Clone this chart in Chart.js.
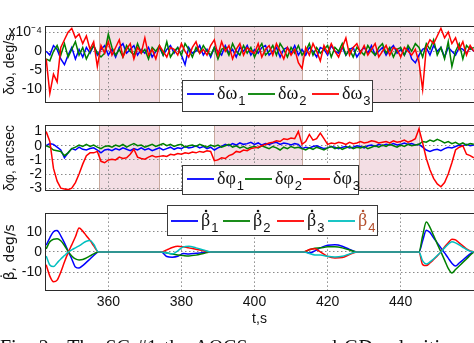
<!DOCTYPE html>
<html>
<head>
<meta charset="utf-8">
<script src="https://cdn.jsdelivr.net/npm/chart.js@4.4.1/dist/chart.umd.min.js"></script>
<style>
  html, body { margin: 0; padding: 0; background: #fff; overflow: hidden; width: 474px; height: 343px; }
  canvas { position: absolute; left: 0; }
  #caption { position: absolute; left: 0px; top: 337px; font: 20px "Liberation Serif", serif; line-height: 20px; white-space: nowrap; color: #111; word-spacing: 2px; }
</style>
</head>
<body>
<canvas id="pOmega" width="474" height="114" style="top:0px"></canvas>
<canvas id="pPhi" width="474" height="88" style="top:114px"></canvas>
<canvas id="pBeta" width="474" height="141" style="top:202px"></canvas>
<div id="caption">Fig. 2.&nbsp; The SC #1 the AOCS errors and GD velocities</div>
<script>
// sample times (s) of the attitude error traces
const tSamples = [
  343, 344, 345, 346, 347, 348, 349, 350, 351, 352,
  353, 354, 355, 356, 357, 358, 359, 360, 361, 362,
  363, 364, 365, 366, 367, 368, 369, 370, 371, 372,
  373, 374, 375, 376, 377, 378, 379, 380, 381, 382,
  383, 384, 385, 386, 387, 388, 389, 390, 391, 392,
  393, 394, 395, 396, 397, 398, 399, 400, 401, 402,
  403, 404, 405, 406, 407, 408, 409, 410, 411, 412,
  413, 414, 415, 416, 417, 418, 419, 420, 421, 422,
  423, 424, 425, 426, 427, 428, 429, 430, 431, 432,
  433, 434, 435, 436, 437, 438, 439, 440, 441, 442,
  443, 444, 445, 446, 447, 448, 449, 450, 451, 452,
  453, 454, 455, 456, 457, 458, 459, 460
];

// rate errors, x1e-4 deg/s
const dOmega1 = [
  0, -1, 1.5, 0.5, -2, -3.5, -1, 1, -2, 0.5,
  -1.5, 1, -0.5, 1.5, -1, 0.5, 1.5, -1, 0.5, -1.5,
  1, 2, -0.5, 0.5, 1.5, -1, 0.5, -0.5, 1, -1.5,
  0, 1, -1, 0.5, 1.5, -0.5, 1, -1, -3.5, 1,
  -0.5, 0, 1.5, -1, 0.5, -1.5, 1, 0, -1, 1.5,
  -0.5, 0.5, -1.5, 1, 0, 1.5, -1, 0.5, -0.5, 1,
  1.5, -1, 0, 1, -1.5, 0.5, 1, -0.5, 1.5, -1,
  0.5, -1, 1, 0, -1.5, 1, 0.5, -1, 1.5, 0,
  -0.5, 1, -1, 0.5, 1, -1.5, 0, 1, -0.5, 1.5,
  -1, 0, 1, -1, 0.5, 1.5, -0.5, 0.5, -1, 1,
  -2, -3, -1, 0.5, 1, -1, 1.5, 0, 1, -1.5,
  1, 0, -1, 1, 0.5, -0.5, 1, 0
];
const dOmega2 = [
  -2, -2.5, 0, 1.5, -1, 2, -1.5, 0.5, 2.5, -1,
  1, -2, 0, 1.5, -0.5, -1.5, -0.5, 4.5, 1, -1,
  0.5, -1.5, 1.5, 0, -1, 2, -0.5, 0.5, -2, 1,
  0, 1.5, -1, 2.5, -1.5, 0, 1, -1, 2, 0.5,
  -1.5, 1, -0.5, 1.5, 0, -1, 1, -2, 0.5, 1,
  -1, 2, 0, -1, 1.5, -0.5, 1, -1.5, 0.5, 2,
  -1, 0, 1.5, -1, 2, 0.5, -1.5, 1, -0.5, 1.5,
  -1, 0, 2, -1, 1, -0.5, 0.5, 1.5, -1.5, 1,
  0, 2, -1, 0.5, -1.5, 1, 0, -1, 1.5, 0,
  -1, 1, 2, -0.5, 1, -1.5, 0.5, 1, -1, 1.5,
  0, 2, 1, -1.5, 2, 0.5, 3, -1, 1, -2,
  2.5, -4, 0, 2, -2, 1.5, 0.5, 1
];
const dOmega3 = [
  -2, -11, -6, -8, 1, 3, 5, 6, 3.5, 4.5,
  2, 4, 0.5, 2.5, -4, 1.5, -0.5, 2.5, -1, 1,
  3, -1.5, 0.5, 2, -2, 1, -0.5, 3.5, -1, 0.5,
  -2, 1.5, 0, -1.5, 1, 0.5, -1, 2, 0, -1.5,
  1, 2.5, -0.5, 0.5, -1, 1.5, 3, -1, 2.5, 0,
  1.5, -2, 0.5, 2, -1, 1, 0, -0.5, 2, -1.5,
  0.5, 1.5, -1, 2, 0, -2, 1, -1, 0.5, -3,
  -4.5, 1, -1, 2, 0, -2.5, 1.5, -0.5, 2, 0,
  -1.5, 1, 3.5, -1, 1, 2, -0.5, 1.5, -1, 0.5,
  2, -1.5, 0, 1.5, -1, 1, 0.5, -1.5, 1, 0,
  -1, 0.5, -3, -10, 1, 3, 2, 4, 6, 3.5,
  5, 2, 3.5, 0.5, 2.5, -1, 1.5, 0
];

// attitude errors, arcsec
const dPhi1 = [
  0.0, 0.15, 0.1, -0.1, -0.3, -0.85, -0.5, -0.2, -0.3, -0.1,
  -0.25, -0.3, -0.2, -0.15, -0.3, -0.5, -0.3, -0.25, -0.35, -0.2,
  -0.3, -0.15, -0.25, -0.35, -0.2, -0.3, -0.15, -0.3, -0.2, -0.35,
  -0.25, -0.15, -0.3, -0.2, -0.1, -0.25, -0.15, -0.2, -0.05, -0.15,
  -0.1, 0.0, -0.15, -0.05, -0.2, -0.1, -0.3, -0.15, -0.05, 0.1,
  0.0, 0.15, 0.05, 0.2, 0.1, 0.15, 0.25, 0.1, 0.2, 0.05,
  0.15, 0.1, 0.2, 0.25, 0.1, 0.2, 0.15, 0.05, 0.15, 0.1,
  -0.2, -0.1, -0.15, -0.05, 0.0, -0.1, -0.2, -0.15, -0.05, -0.1,
  -0.2, -0.1, -0.05, -0.15, -0.1, 0.0, -0.05, -0.15, 0.0, 0.05,
  -0.05, 0.1, 0.0, 0.1, 0.05, 0.15, 0.05, 0.1, 0.2, 0.1,
  0.15, 0.05, 0.1, -0.1, -0.3, -0.4, -0.3, -0.25, -0.35, -0.2,
  -0.1, -0.15, -0.05, 0.05, 0.0, 0.1, 0.0, 0.05
];
const dPhi2 = [
  0.0, -0.1, -0.3, -0.35, -0.4, -0.7, -0.5, -0.2, -0.1, 0.05,
  -0.05, 0.1, -0.05, 0.05, -0.1, -0.2, -0.05, 0.0, -0.1, 0.05,
  -0.05, 0.1, -0.1, 0.05, 0.15, 0.0, 0.05, -0.1, 0.0, 0.1,
  -0.05, 0.05, 0.15, 0.0, 0.1, -0.05, 0.05, 0.1, -0.1, 0.0,
  0.05, -0.05, 0.1, 0.0, -0.1, 0.05, -0.05, 0.05, -0.1, 0.0,
  0.1, -0.1, 0.0, -0.15, -0.05, -0.2, -0.1, -0.05, -0.15, 0.0,
  -0.1, -0.2, -0.05, -0.15, -0.3, -0.1, -0.2, -0.05, -0.15, -0.1,
  -0.2, -0.3, -0.15, -0.25, -0.1, -0.2, -0.3, -0.15, -0.05, -0.2,
  -0.1, -0.25, -0.15, -0.05, -0.2, -0.1, -0.15, -0.05, -0.2, -0.1,
  0.0, -0.1, 0.05, -0.05, 0.1, 0.0, -0.1, 0.05, -0.05, 0.1,
  0.0, 0.05, 0.1, 0.3, 0.25, 0.4, 0.3, 0.45, 0.35, 0.2,
  0.3, 0.15, 0.25, 0.1, 0.2, 0.05, 0.15, 0.1
];
const dPhi3 = [
  1.0, 0.3, -1.6, -2.5, -3.0, -3.05, -3.1, -3.0, -2.6, -2.0,
  -1.3, -0.7, -0.5, -0.5, -0.4, -1.1, -1.2, -1.0, -0.95, -1.0,
  -0.8, -0.9, -0.85, -0.6, -0.25, -0.8, -0.9, -0.95, -0.8, -0.7,
  -0.8, -0.75, -0.7, -0.75, -0.6, -0.65, -0.55, -0.6, -0.5, -0.55,
  -0.45, -0.5, -0.4, -0.45, -0.35, -0.4, -1.05, -1.0, -0.85, -0.9,
  -0.7, -0.6, -0.4, -0.45, -0.3, -0.35, -0.2, -0.15, -0.1, 0.0,
  0.1, 0.2, 0.25, 0.35, 0.3, 0.5, 0.45, 0.55, 0.5, 1.0,
  0.1, 0.3, 0.8, 0.4, 0.5, 0.9, 0.5, 0.1, 0.2, 0.15,
  0.25, 0.2, 0.1, 0.25, 0.15, 0.2, 0.3, 0.2, 0.25, 0.35,
  0.3, 0.2, 0.25, 0.3, 0.2, 0.35, 0.25, 0.3, 0.4, 0.25,
  0.35, 0.5, 1.2, 0.2, -0.9, -1.7, -2.3, -2.7, -2.9, -2.6,
  -2.0, -1.2, -0.3, -0.1, 0.0, -0.6, -0.7, -0.85
];

// gyrodyne gimbal rates, deg/s (zero between manoeuvres)
const tBeta = [
  343, 344, 345, 346, 347, 348, 349.1, 350, 351, 352, 353, 354, 355, 356, 357.3,
  374.5, 376, 377.5, 379, 380.5, 382, 384, 386, 388,
  413.5, 415, 416.5, 418, 420, 422, 424, 426, 428,
  445, 446, 447, 448, 449, 450, 451, 452, 453, 454, 455, 456, 457, 458, 459, 460
];
const beta1 = [
  3.3, 7, 10, 10.6, 8, 4.5, 0, -3.5, -7.5, -8, -6.8, -5.2, -3.5, -1.8, 0,
  0, -2.3, -2.6, -2.2, -0.8, -1.0, -0.7, -0.3, 0,
  0, -0.5, 0.5, 2, 3.3, 3.5, 2.8, 1.2, 0,
  0, 5.5, 10.8, 9.6, 7, 4.5, 2, -0.5, -3.1, -5.6, -7, -5.5, -4, -2.5, -1, 0
];
const beta2 = [
  1.5, 5, 6.3, 6.5, 5.5, 3.2, 0, -2, -3.5, -4, -3.8, -3, -2, -1, 0,
  0, -0.5, -1, -1.5, -1.8, -2, -1.6, -0.8, 0,
  0, 1, 1.8, 2, 2.5, 2.5, 2, 0.9, 0,
  0, 8, 14.8, 12.2, 8.1, 4, 0, -4.1, -8.2, -10.5, -8.7, -7, -5.2, -3.5, -1.7, 0
];
const beta3 = [
  -6.4, -12, -14.8, -14, -10, -5, 0, 3.5, 7.5, 11.8, 10.3, 8, 5.7, 3, 0,
  0, 1, 2.2, 2.8, 2.5, 2, 1.3, 0.6, 0,
  0, 1.2, 1.5, 0, -2.2, -3, -2.8, -1.3, 0,
  0, -6.3, -6.8, -5.5, -3.8, -2, 0, 2.5, 4.5, 6.3, 6, 4.5, 3, 1.5, 0.5, 0
];
const beta4 = [
  -2, -6.5, -7.3, -5.5, -3.5, -1.8, 0, 1, 2, 3, 4.2, 5.3, 5.6, 3.8, 0,
  0, -0.5, -1, 0.5, 2.5, 2.8, 2, 1, 0,
  0, -0.8, -1.5, -1.5, -2.2, -2.5, -2.2, -1, 0,
  0, -4.5, -6, -5, -3.5, -1.8, 0, 2, 3.8, 5, 4.5, 3.5, 2.3, 1.2, 0.4, 0
];

const xTicks = [360, 380, 400, 420, 440];
const omegaTicks = [-10, -5, 0, 5];
const phiTicks = [-3, -2, -1, 0, 1];
const betaTicks = [-10, 0, 10];
// pink windows (s)
const shadedSpans = [[357.5, 374], [389, 413], [428.5, 444.9]];

const omegaLabels = ['δω₁', 'δω₂', 'δω₃'];
const phiLabels = ['δφ₁', 'δφ₂', 'δφ₃'];
const betaLabels = ['β̇₁', 'β̇₂', 'β̇₃', 'β̇₄'];

const BLUE = '#0000ff', GREEN = '#008000', RED = '#ff0000', CYAN = '#00bfbf';
const GRID = '#8a8a8a';

Chart.defaults.font.family = '"Liberation Sans", Arial, sans-serif';
Chart.defaults.font.size = 14;
Chart.defaults.color = '#111';

const pts = (ts, vs) => ts.map((t, i) => ({ x: t, y: vs[i] }));

function series(label, ts, vs, color, order, extra) {
  return Object.assign({
    label, data: pts(ts, vs), borderColor: color, backgroundColor: color,
    borderWidth: 1.5, pointRadius: 0, tension: 0, order
  }, extra || {});
}

// pink windows under the grid
const bandsPlugin = {
  id: 'bands',
  beforeDraw(chart, args, opts) {
    if (!opts.spans) return;
    const { ctx, chartArea: a, scales: { x } } = chart;
    ctx.save();
    opts.spans.forEach(([t0, t1]) => {
      const x0 = x.getPixelForValue(t0), x1 = x.getPixelForValue(t1);
      ctx.fillStyle = '#f3dee4';
      ctx.fillRect(x0, a.top, x1 - x0, a.bottom - a.top);
      ctx.strokeStyle = '#c9aa9e';
      ctx.lineWidth = 1;
      [x0, x1].forEach(px => {
        ctx.beginPath();
        ctx.moveTo(Math.round(px) + 0.5, a.top);
        ctx.lineTo(Math.round(px) + 0.5, a.bottom);
        ctx.stroke();
      });
    });
    ctx.restore();
  }
};

// legend label: base glyphs, optional dot over the first one, digit subscript
function drawSubLabel(ctx, label, x, y, color) {
  const subs = '₀₁₂₃₄₅₆₇₈₉';
  const last = label.slice(-1);
  let base = subs.includes(last) ? label.slice(0, -1) : label;
  const dotted = base.includes('\u0307');
  base = base.replace('\u0307', '');
  ctx.fillStyle = color;
  ctx.textAlign = 'left';
  ctx.textBaseline = 'alphabetic';
  ctx.font = '18px "Liberation Serif", "DejaVu Serif", serif';
  ctx.fillText(base, x, y + 5);
  const w = ctx.measureText(base).width;
  if (dotted) {
    ctx.beginPath();
    ctx.arc(x + w * 0.55, y - 10, 1.3, 0, Math.PI * 2);
    ctx.fill();
  }
  if (subs.includes(last)) {
    ctx.font = '13px "Liberation Sans", Arial, sans-serif';
    ctx.fillText(String(subs.indexOf(last)), x + w + 1, y + 11);
  }
}

// axes box and the boxed legend
const frameLegendPlugin = {
  id: 'frameLegend',
  afterDraw(chart, args, opts) {
    const { ctx, chartArea: a } = chart;
    ctx.save();
    ctx.strokeStyle = '#2a2a2a';
    ctx.lineWidth = 1;
    ctx.strokeRect(Math.round(a.left) + 0.5, Math.round(a.top) + 0.5,
      Math.round(a.right) - Math.round(a.left), Math.round(a.bottom) - Math.round(a.top) - 1);
    const lg = opts.legend;
    if (lg) {
      const [bx, by, bw, bh] = lg.box;
      ctx.fillStyle = '#fff';
      ctx.fillRect(bx, by, bw, bh);
      ctx.strokeStyle = '#3a3a3a';
      ctx.strokeRect(bx + 0.5, by + 0.5, bw, bh);
      chart.data.datasets.forEach((ds, i) => {
        const lx = lg.lineX[i];
        ctx.strokeStyle = ds.borderColor;
        ctx.lineWidth = 1.8;
        ctx.beginPath();
        ctx.moveTo(lx, lg.lineY);
        ctx.lineTo(lx + 27, lg.lineY);
        ctx.stroke();
        drawSubLabel(ctx, ds.label, lx + 30, lg.lineY, (lg.textColors && lg.textColors[i]) || '#111');
      });
    }
    ctx.restore();
  }
};

function makePanel(id, datasets, p) {
  return new Chart(document.getElementById(id), {
    type: 'line',
    data: { datasets },
    options: {
      responsive: false,
      animation: false,
      devicePixelRatio: 1,
      events: [],
      layout: { padding: { top: p.padTop, bottom: p.padBottom, left: 0, right: 0 } },
      plugins: {
        legend: { display: false },
        tooltip: { enabled: false },
        bands: { spans: p.spans },
        frameLegend: { legend: p.legend }
      },
      scales: {
        x: {
          type: 'linear', min: 342.68, max: 460.05,
          afterBuildTicks: s => { s.ticks = xTicks.map(v => ({ value: v })); },
          afterFit: s => { s.height = p.xHeight; },
          grid: { color: GRID, drawTicks: false, lineWidth: 1 },
          border: { display: false, dash: [1.5, 2.5] },
          ticks: { display: p.showX, autoSkip: false, maxRotation: 0, padding: 3, color: '#111', font: { size: 14 } },
          title: { display: p.showX, text: 't,s', color: '#111', font: { size: 14 }, padding: { top: 0, bottom: 15.3 } }
        },
        y: {
          min: p.yMin, max: p.yMax,
          afterBuildTicks: s => { s.ticks = p.yTicks.map(v => ({ value: v })); },
          afterFit: s => { s.width = 45; },
          grid: { color: GRID, drawTicks: false, lineWidth: 1 },
          border: { display: false, dash: [1.5, 2.5] },
          ticks: { autoSkip: false, padding: 3, color: '#111', font: { size: 14 }, callback: p.tickFmt || (v => String(v)) },
          title: { display: true, text: p.yTitle, color: '#111',
                   font: { size: 14, family: p.titleFamily || '"Liberation Sans", Arial, sans-serif' },
                   padding: { top: 1.6, bottom: 0 } }
        }
      }
    },
    plugins: [bandsPlugin, frameLegendPlugin]
  });
}

makePanel('pOmega', [
  series(omegaLabels[0], tSamples, dOmega1, BLUE, 3),
  series(omegaLabels[1], tSamples, dOmega2, GREEN, 2),
  series(omegaLabels[2], tSamples, dOmega3, RED, 1)
], {
  padTop: 26, padBottom: 0.7, xHeight: 0, showX: false,
  yMin: -13.4, yMax: 6.6, yTicks: omegaTicks, yTitle: 'δω, deg/s',
  tickFmt: v => (v === 5 ? 'x10⁻⁴' : String(v)),
  spans: shadedSpans,
  legend: { box: [182, 80, 190, 31], lineY: 94, lineX: [187, 248, 312] }
});

makePanel('pPhi', [
  series(phiLabels[0], tSamples, dPhi1, BLUE, 3),
  series(phiLabels[1], tSamples, dPhi2, GREEN, 2),
  series(phiLabels[2], tSamples, dPhi3, RED, 1)
], {
  padTop: 1.7, padBottom: 1.3, xHeight: 0, showX: false,
  yMin: -3.17, yMax: 1.44, yTicks: phiTicks, yTitle: 'δφ, arcsec',
  spans: shadedSpans,
  legend: { box: [182, 165 - 114, 176, 29], lineY: 179 - 114, lineX: [187, 245, 303] }
});

makePanel('pBeta', [
  series(betaLabels[0], tBeta, beta1, BLUE, 4, { cubicInterpolationMode: 'monotone' }),
  series(betaLabels[1], tBeta, beta2, GREEN, 3, { cubicInterpolationMode: 'monotone' }),
  series(betaLabels[2], tBeta, beta3, RED, 2, { cubicInterpolationMode: 'monotone' }),
  series(betaLabels[3], tBeta, beta4, CYAN, 1, { cubicInterpolationMode: 'monotone' })
], {
  padTop: 2.3, padBottom: 0, xHeight: 52, showX: true,
  yMin: -19.4, yMax: 19.1, yTicks: betaTicks, yTitle: 'β̇, deg/s',
  titleFamily: '"DejaVu Sans", sans-serif',
  spans: null,
  legend: { box: [167, 205 - 202, 210, 30], lineY: 221 - 202, lineX: [171, 223, 277, 328],
            textColors: ['#111', '#111', '#111', '#b4502e'] }
});
</script>
</body>
</html>
